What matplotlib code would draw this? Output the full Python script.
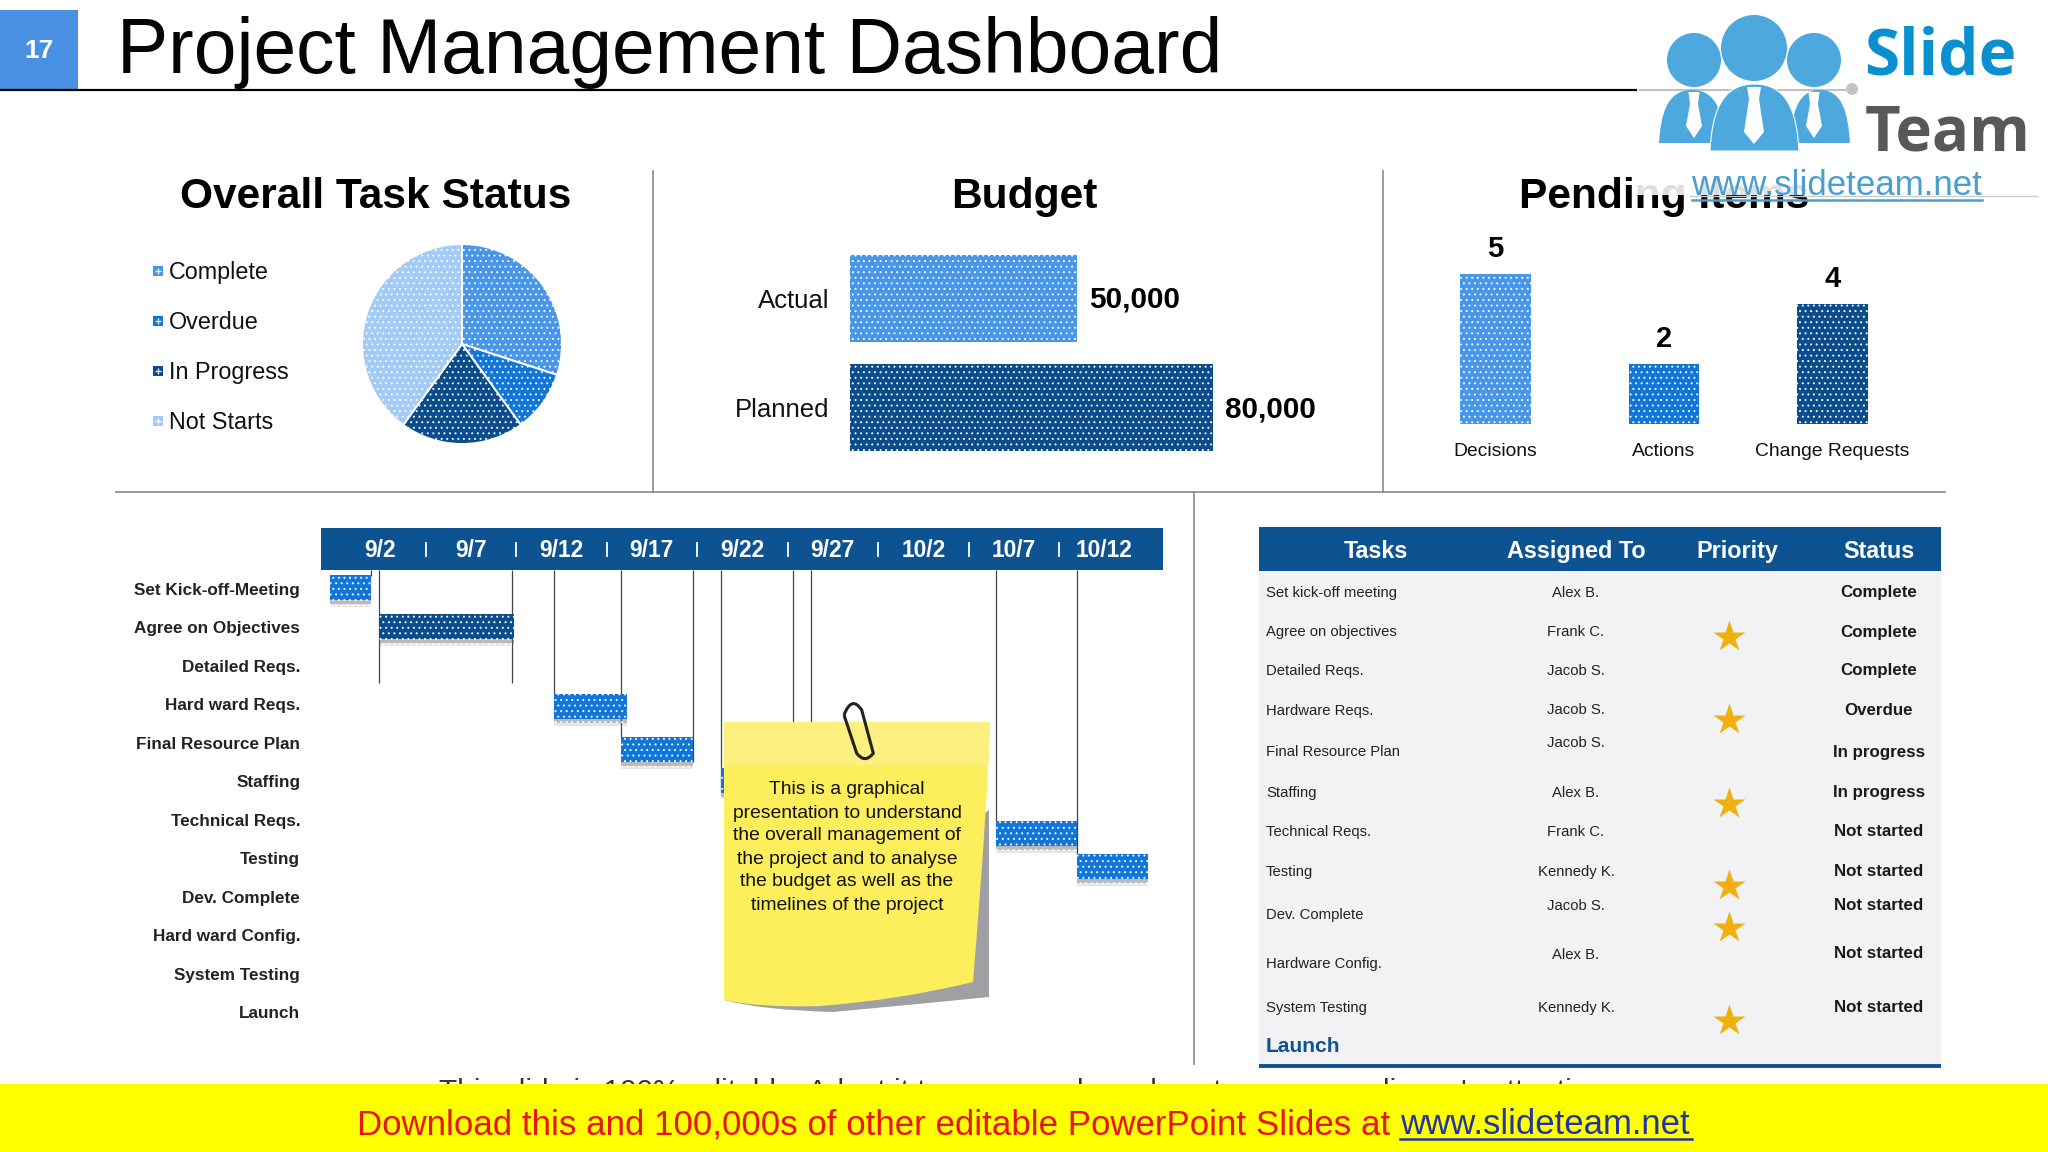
# -*- coding: utf-8 -*-
"""Project Management Dashboard slide"""
import matplotlib
matplotlib.use('Agg')
import matplotlib.pyplot as plt
from matplotlib.patches import Rectangle, Circle, Polygon, PathPatch
from matplotlib.path import Path
from matplotlib import patheffects as pe

plt.rcParams['font.family'] = ['Liberation Sans', 'DejaVu Sans']
plt.rcParams['hatch.linewidth'] = 0.65

W, H = 2048, 1152

# ---- data ----
status_labels = ['Complete', 'Overdue', 'In Progress', 'Not Starts']
status_values = [30, 10, 20, 40]

budget_labels = ['Actual', 'Planned']
budget_values = [50000, 80000]

pending_labels = ['Decisions', 'Actions', 'Change Requests']
pending_values = [5, 2, 4]

gantt_tasks = ['Set Kick-off-Meeting', 'Agree on Objectives', 'Detailed Reqs.', 'Hard ward Reqs.',
               'Final Resource Plan', 'Staffing', 'Technical Reqs.', 'Testing', 'Dev. Complete',
               'Hard ward Config.', 'System Testing', 'Launch']
date_labels = ['9/2', '9/7', '9/12', '9/17', '9/22', '9/27', '10/2', '10/7', '10/12']
date_days = [0, 5, 10, 15, 20, 25, 30, 35, 40]

# days after 9/2, row in the task list as drawn
bar_start = [-2.8, -0.1, 9.6, 13.3, 18.8, 34.0, 38.5]
bar_end = [-0.5, 7.4, 13.6, 17.3, 22.8, 38.5, 42.4]
bar_row = [-0.03, 0.98, 3.05, 4.17, 4.97, 6.36, 7.21]
guide_day = [-0.5, -0.1, 7.3, 9.6, 13.3, 17.3, 18.8, 22.8, 23.8, 34.0, 38.5]
guide_end = [-0.33, 2.44, 2.44, 2.73, 3.84, 4.49, 5.25, 5.5, 5.5, 6.05, 6.88]

table_tasks = ['Set kick-off meeting', 'Agree on objectives', 'Detailed Reqs.', 'Hardware Reqs.',
               'Final Resource Plan', 'Staffing', 'Technical Reqs.', 'Testing', 'Dev. Complete',
               'Hardware Config.', 'System Testing']
table_people = ['Alex B.', 'Frank C.', 'Jacob S.', 'Jacob S.', 'Jacob S.', 'Alex B.', 'Frank C.',
                'Kennedy K.', 'Jacob S.', 'Alex B.', 'Kennedy K.']
table_status = ['Complete', 'Complete', 'Complete', 'Overdue', 'In progress', 'In progress',
                'Not started', 'Not started', 'Not started', 'Not started', 'Not started']

note_lines = ['This is a graphical', 'presentation to understand', 'the overall management of',
              'the project and to analyse', 'the budget as well as the', 'timelines of the project']

# ---- colours ----
LIGHT = '#4896E8'
MID = '#1276D8'
DARK = '#0A4C8C'
PALE = '#A3CBF6'
NAVY = '#0D5391'
DOTS = '...'

fig = plt.figure(figsize=(W / 100, H / 100), dpi=100, facecolor='white')


def px_axes(left, top, right, bottom, z=1):
    ax = fig.add_axes([left / W, 1 - bottom / H, (right - left) / W, (bottom - top) / H], zorder=z)
    ax.patch.set_visible(False)
    return ax


def overlay(z):
    ax = px_axes(0, 0, W, H, z)
    ax.set_xlim(0, W)
    ax.set_ylim(H, 0)
    ax.axis('off')
    return ax


bg = overlay(0)
fg = overlay(10)

# ---- header ----
bg.add_patch(Rectangle((0, 10), 78, 79, fc='#4A90E2', ec='none'))
bg.text(39, 51, '17', color='white', fontsize=19, fontweight='bold', ha='center', va='center')
bg.text(117, 73, 'Project Management Dashboard', fontsize=55.3, ha='left', va='baseline', color='#050505')
bg.plot([0, 1640], [89.5, 89.5], color='black', lw=1.6)

# ---- section titles and dividers ----
bg.text(376, 197, 'Overall Task Status', fontsize=30.6, fontweight='bold', ha='center', va='center')
bg.text(1024, 197, 'Budget', fontsize=30.6, fontweight='bold', ha='center', va='center')
bg.text(1664, 197, 'Pending Items', fontsize=30.6, fontweight='bold', ha='center', va='center')

for x, y0, y1 in [(653, 171, 492), (1383, 171, 492), (1194, 492, 1064)]:
    bg.plot([x, x], [y0, y1], color='#8a8a8a', lw=1.2)
bg.plot([116, 1945], [492, 492], color='#8a8a8a', lw=1.2)

# ---- pie ----
ax = px_axes(361, 243, 563, 445)
ax.pie(status_values, colors=[LIGHT, MID, DARK, PALE], startangle=90, counterclock=False,
       wedgeprops=dict(edgecolor='white', linewidth=1.4, hatch=DOTS))
ax.set_xlim(-1.01, 1.01)
ax.set_ylim(-1.01, 1.01)

for i, (lab, col) in enumerate(zip(status_labels, [LIGHT, MID, DARK, PALE])):
    y = 271 + 50 * i
    bg.add_patch(Rectangle((153, y - 5), 10, 10, fc=col, ec='none'))
    bg.plot([158], [y], ls='none', marker='+', ms=5, mew=0.9, color='white')
    bg.text(169, y + 1.5, lab, fontsize=16.8, ha='left', va='center', color='#111111')

# ---- budget bars ----
ax = px_axes(850, 255, 1213, 451)
ax.barh(range(2), budget_values, height=0.79, color=[LIGHT, DARK], edgecolor='white', linewidth=0, hatch=DOTS)
ax.set_xlim(0, 80000)
ax.set_ylim(1.395, -0.395)
ax.set_yticks(range(2), budget_labels, fontsize=18.5, color='#111111')
ax.tick_params(axis='y', length=0, pad=15)
ax.set_xticks([])
for s in ax.spines.values():
    s.set_visible(False)
for i, v in enumerate(budget_values):
    ax.annotate(f'{v:,}', (v, i), xytext=(9, -1), textcoords='offset points', fontsize=21.3,
                fontweight='bold', va='center', ha='left')

# ---- pending bars ----
ax = px_axes(1460, 274, 1868, 424.5)
ax.bar(range(3), pending_values, width=0.42, color=[LIGHT, MID, DARK], edgecolor='white', linewidth=0, hatch=DOTS)
ax.set_xlim(-0.21, 2.21)
ax.set_ylim(0, 5)
ax.set_xticks(range(3), pending_labels, fontsize=13.9, color='#111111')
ax.tick_params(axis='x', length=0, pad=13)
ax.set_yticks([])
for s in ax.spines.values():
    s.set_visible(False)
for i, v in enumerate(pending_values):
    ax.annotate(str(v), (i, v), xytext=(0, 8), textcoords='offset points', fontsize=21,
                fontweight='bold', va='bottom', ha='center', annotation_clip=False)

# ---- gantt ----
bg.add_patch(Rectangle((321, 528), 842, 42, fc=NAVY, ec='none'))
ax = px_axes(321, 570, 1163, 1064, 2)
ax.set_xlim(-3.28, 43.24)
ax.set_ylim(12.34, -0.49)
widths = [e - s for s, e in zip(bar_start, bar_end)]
bar_cols = [MID, DARK, MID, MID, MID, MID, MID]
bars = ax.barh(bar_row, widths, left=bar_start, height=0.64, color=bar_cols, edgecolor='white',
               linewidth=0, hatch=DOTS, zorder=3)
for b in bars:
    b.set_path_effects([pe.SimplePatchShadow(offset=(0, -5), shadow_rgbFace='#777777', alpha=0.18),
                        pe.SimplePatchShadow(offset=(0, -3), shadow_rgbFace='#555555', alpha=0.3),
                        pe.Normal()])
ax.vlines(guide_day, -0.49, guide_end, color='#444444', lw=0.9, zorder=2)
ax.xaxis.tick_top()
ax.set_xticks(date_days, date_labels, fontsize=16.4, fontweight='bold', color='white')
ax.tick_params(axis='x', length=0, pad=6)
ax.set_yticks(range(12), gantt_tasks, fontsize=12.3, fontweight='bold', color='#222222')
ax.tick_params(axis='y', length=0, pad=15)
for s in ax.spines.values():
    s.set_visible(False)
for d in date_days[:-1]:
    x = 380.3 + (d + 2.5) * 18.1
    bg.plot([x, x], [543, 556], color='white', lw=1.3, zorder=3)

# ---- sticky note ----
shadow = Path([(989, 810), (989, 997), (930, 1003), (833, 1012), (760, 1010), (724, 1000), (989, 810)],
              [Path.MOVETO, Path.LINETO, Path.CURVE3, Path.CURVE3, Path.CURVE3, Path.CURVE3, Path.CLOSEPOLY])
fg.add_patch(PathPatch(shadow, fc='#A0A0A4', ec='none', zorder=1))
note = Path([(724, 722), (990, 722), (988, 800), (973, 982), (900, 1000), (820, 1006), (760, 1008), (724, 1000), (724, 722)],
            [Path.MOVETO, Path.LINETO, Path.CURVE3, Path.CURVE3, Path.CURVE3, Path.CURVE3, Path.CURVE3, Path.CURVE3, Path.CLOSEPOLY])
fg.add_patch(PathPatch(note, fc='#FDEE5C', ec='none', zorder=2))
fg.add_patch(Polygon([(724, 722), (990, 722), (988.5, 765), (724, 765)], fc='#FCF07E', ec='none', zorder=3))
clip = Path([(844, 715), (856.7, 753.3), (865, 764), (873.3, 753.3), (861.7, 710), (851.7, 695), (844, 715)],
            [Path.MOVETO, Path.LINETO, Path.CURVE3, Path.CURVE3, Path.LINETO, Path.CURVE3, Path.CURVE3])
fg.add_patch(PathPatch(clip, fc='none', ec='#222222', lw=2.2, zorder=4))
for i, line in enumerate(note_lines):
    fg.text(847, 790 + 23 * i, line, fontsize=13.9, ha='center', va='center', color='#111111', zorder=5)

# ---- table ----
bg.add_patch(Rectangle((1259, 571), 682, 493, fc='#F2F2F4', ec='none'))
bg.add_patch(Rectangle((1259, 527), 682, 44, fc=NAVY, ec='none'))
bg.plot([1259, 1941], [1065.5, 1065.5], color=NAVY, lw=2.8, solid_capstyle='butt')
for x, lab in [(1376, 'Tasks'), (1576, 'Assigned To'), (1737.6, 'Priority'), (1878.6, 'Status')]:
    bg.text(x, 558, lab, color='white', fontsize=16.8, fontweight='bold', ha='center', va='baseline')

task_y = [593, 632, 671, 710.5, 752, 793, 832, 872, 915.5, 964, 1008]
people_y = [593, 632, 671, 710.5, 743, 793, 832, 872, 906.5, 955, 1008]
status_y = [593, 632, 671, 710.5, 752, 793, 832, 872, 905, 954, 1008]
star_y = [637, 720, 803.6, 886, 928, 1021]
for i in range(11):
    bg.text(1266, task_y[i], table_tasks[i], fontsize=10.7, ha='left', va='center', color='#222222')
    bg.text(1576, people_y[i], table_people[i], fontsize=10.7, ha='center', va='center', color='#222222')
    bg.text(1878.6, status_y[i], table_status[i], fontsize=12.2, fontweight='bold', ha='center',
            va='center', color='#1a1a1a')
bg.plot([1729] * len(star_y), star_y, ls='none', marker='*', ms=24, mfc='#EFB00F', mec='none')
bg.text(1266, 1047, 'Launch', fontsize=15.1, fontweight='bold', color=NAVY, ha='left', va='center')

# ---- logo ----
fg.add_patch(Rectangle((1637, 0), 405, 195, fc='white', ec='none', alpha=0.88, zorder=1))
fg.plot([1640, 1850], [89.5, 89.5], color='#b5b5b5', lw=1.2, zorder=2)
fg.add_patch(Circle((1852, 89), 6, fc='#c4c4c4', ec='none', zorder=2))
fg.plot([1690, 2037], [195.5, 195.5], color='#cccccc', lw=1, zorder=2)
LOGO = '#4DA8DE'


def dome(x0, x1, top, bot, z, ec='none'):
    xm = (x0 + x1) / 2
    p = Path([(x0, bot), (x0 + 2, top + (bot - top) * 0.45), (x0 + (x1 - x0) * 0.12, top), (xm, top),
              (x1 - (x1 - x0) * 0.12, top), (x1 - 2, top + (bot - top) * 0.45), (x1, bot), (x0, bot)],
             [Path.MOVETO, Path.CURVE4, Path.CURVE4, Path.CURVE4, Path.CURVE4, Path.CURVE4, Path.CURVE4, Path.CLOSEPOLY])
    fg.add_patch(PathPatch(p, fc=LOGO, ec=ec, lw=0.8, zorder=z))


def tie(x, top, bot, w, z):
    fg.add_patch(Polygon([(x - w * 0.7, top), (x + w * 0.7, top), (x + w * 0.5, top + 12), (x + w, bot - 12),
                          (x, bot), (x - w, bot - 12), (x - w * 0.5, top + 12)],
                         fc='white', ec='none', zorder=z))


dome(1659, 1725, 90, 143, 3)
dome(1790, 1850, 90, 143, 3)
dome(1710, 1799, 84, 151, 4, ec='white')
fg.add_patch(Circle((1694, 60), 27, fc=LOGO, ec='none', zorder=3))
fg.add_patch(Circle((1814, 60), 27, fc=LOGO, ec='none', zorder=3))
fg.add_patch(Circle((1754, 48), 33, fc=LOGO, ec='none', zorder=4))
tie(1694, 92, 138, 8, 5)
tie(1814, 92, 138, 8, 5)
tie(1754, 87, 144, 10, 5)
fg.text(1864, 74.5, 'Slide', fontsize=46, fontweight='bold', family='Open Sans', color='#0A8FCF', va='baseline', zorder=6)
fg.text(1865, 150.5, 'Team', fontsize=44.5, fontweight='bold', family='Open Sans', color='#58585A', va='baseline', zorder=6)
fg.text(1691, 195, 'www.slideteam.net', fontsize=25.1, color='#4A9FD0', va='baseline', zorder=6)
fg.plot([1692, 1982], [199.5, 199.5], color='#4A9FD0', lw=1.8, zorder=6)

# ---- footer banner ----
bg.text(1026, 1078, "This slide is 100% editable. Adapt it to your needs and capture your audience's attention.",
        fontsize=21.5, color='#333333', ha='center', va='top')
fg.add_patch(Rectangle((0, 1084), W, 68, fc='#FFFF00', ec='none', zorder=1))
fg.text(357, 1125, 'Download this and 100,000s of other editable PowerPoint Slides at', fontsize=25.15,
        color='#E8141C', ha='left', va='center', zorder=2)
fg.text(1400, 1125, 'www.slideteam.net', fontsize=25, color='#2233A8', ha='left', va='center', zorder=2)
fg.plot([1400, 1692], [1139, 1139], color='#2233A8', lw=1.8, zorder=2)

fig.savefig('out.png', dpi=100, facecolor='white')
